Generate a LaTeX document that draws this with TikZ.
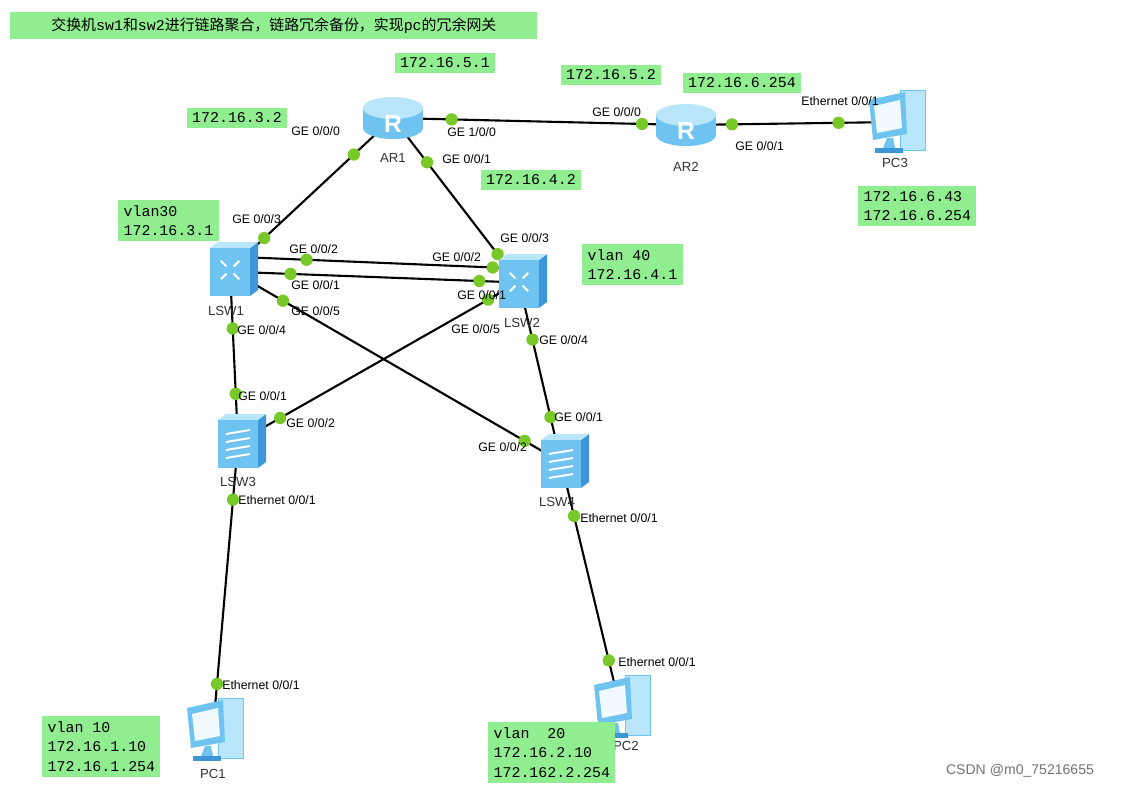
\documentclass[tikz,border=0pt]{standalone}
\usepackage{fontspec}
\setmainfont{Liberation Sans}
\newfontfamily\mono{Liberation Mono}
\newfontfamily\cjk{Noto Sans CJK SC}
\usetikzlibrary{positioning}
\definecolor{tagbg}{RGB}{144,238,144}
\definecolor{dotc}{RGB}{120,200,40}
\definecolor{devc}{RGB}{110,195,240}
\definecolor{devl}{RGB}{185,230,250}
\definecolor{devd}{RGB}{60,150,215}
\tikzset{
  link/.style={draw=black, line width=1.2pt},
  port/.style={circle, fill=dotc, inner sep=0pt, minimum size=7pt},
  plabel/.style={font=\fontsize{7}{8}\selectfont, anchor=west, inner sep=0pt},
  dname/.style={font=\fontsize{7.5}{9}\selectfont, text=black!80},
  tag/.style={fill=tagbg, font=\mono\fontsize{8.5}{11}\selectfont, align=left, inner sep=3pt},
  dev/.style={minimum width=40pt, minimum height=30pt, inner sep=0pt},
  pics/router/.style={code={
    \fill[devc] (-30,-10) rectangle (30,10);
    \fill[devc] (0,10) ellipse [x radius=30, y radius=11];
    \fill[devl] (0,-10) ellipse [x radius=30, y radius=11];
    \node[text=white, font=\bfseries\fontsize{14}{14}\selectfont] at (0,6) {R};
  }},
  pics/lswitch/.style={code={
    \fill[devd] (20,-22) -- (28,-28) -- (28,20) -- (20,26) -- cycle;
    \fill[devl] (-20,-22) -- (-12,-28) -- (28,-28) -- (20,-22) -- cycle;
    \fill[devc] (-20,-22) rectangle (20,26);
    \foreach \a in {45,135,225,315}
      \draw[white, line width=1.2pt] (\a:5) -- (\a:13);
  }},
  pics/aswitch/.style={code={
    \fill[devd] (20,-22) -- (28,-28) -- (28,20) -- (20,26) -- cycle;
    \fill[devl] (-20,-22) -- (-12,-28) -- (28,-28) -- (20,-22) -- cycle;
    \fill[devc] (-20,-22) rectangle (20,26);
    \foreach \y in {-8,0,8,16}
      \draw[white, line width=1.1pt] (-12,\y) -- (12,\y-4);
  }},
  pics/pc/.style={code={
    \fill[devl] (5,-32) rectangle (30,28);
    \draw[devc] (5,-32) rectangle (30,28);
    \fill[devc] (-26,-22) -- (10,-30) -- (12,12) -- (-22,18) -- cycle;
    \fill[white!80!devl] (-21,-16) -- (5,-22) -- (7,6) -- (-18,11) -- cycle;
    \fill[devc] (-8,16) -- (-2,16) -- (0,26) -- (-12,26) -- cycle;
    \fill[devd] (-20,26) rectangle (8,31);
  }}
}

\begin{document}
\begin{tikzpicture}[x=0.02cm, y=-0.02cm]
\useasboundingbox[fill=white] (0,0) rectangle (1125,789);
% devices (anchors)
\node[dev] (ar1) at (393,118) {};
\node[dev] (ar2) at (686,125) {};
\node[dev] (pc3) at (895,122) {};
\node[dev] (lsw1) at (230,270) {};
\node[dev] (lsw2) at (519,282) {};
\node[dev] (lsw3) at (238,442) {};
\node[dev] (lsw4) at (561,462) {};
\node[dev] (pc1) at (213,730) {};
\node[dev] (pc2) at (620,707) {};
\coordinate (u1) at (240,257);
\coordinate (u2) at (506,268);
\coordinate (l1) at (240,272);
\coordinate (l2) at (506,282);
% links
\draw[link] (ar1.center) -- (lsw1.center) node[port,pos=0.24]{} node[port,pos=0.79]{};
\draw[link] (ar1.center) -- (ar2.center) node[port,pos=0.20]{} node[port,pos=0.85]{};
\draw[link] (ar1.center) -- (lsw2.center) node[port,pos=0.27]{} node[port,pos=0.83]{};
\draw[link] (ar2.center) -- (pc3.center) node[port,pos=0.22]{} node[port,pos=0.73]{};
\draw[link] (u1) -- (u2) node[port,pos=0.25]{} node[port,pos=0.95]{};
\draw[link] (l1) -- (l2) node[port,pos=0.19]{} node[port,pos=0.90]{};
\draw[link] (lsw1.center) -- (lsw4.center) node[port,pos=0.16]{} node[port,pos=0.89]{};
\draw[link] (lsw2.center) -- (lsw3.center) node[port,pos=0.11]{} node[port,pos=0.85]{};
\draw[link] (lsw1.center) -- (lsw3.center) node[port,pos=0.34]{} node[port,pos=0.72]{};
\draw[link] (lsw2.center) -- (lsw4.center) node[port,pos=0.32]{} node[port,pos=0.75]{};
\draw[link] (lsw3.center) -- (pc1.center) node[port,pos=0.20]{} node[port,pos=0.84]{};
\draw[link] (lsw4.center) -- (pc2.center) node[port,pos=0.22]{} node[port,pos=0.81]{};
% icons
\pic at (ar1) {router};
\pic at (ar2) {router};
\pic at (lsw1) {lswitch};
\pic at (lsw2) {lswitch};
\pic at (lsw3) {aswitch};
\pic at (lsw4) {aswitch};
\pic at (pc1) {pc};
\pic at (pc2) {pc};
\pic at (pc3) {pc};
% names
\node[dname] (n1) at (393,158) {AR1};
\node[dname] (n2) at (686,167) {AR2};
\node[dname] (n3) at (895,163) {PC3};
\node[dname] (n4) at (226,311) {LSW1};
\node[dname] (n5) at (522,323) {LSW2};
\node[dname] (n6) at (238,482) {LSW3};
\node[dname] (n7) at (557,502) {LSW4};
\node[dname] (n8) at (213,774) {PC1};
\node[dname] (n9) at (626,746) {PC2};
% port labels
\node[plabel] (p1) at (291,131) {GE 0/0/0};
\node[plabel] (p2) at (447,132) {GE 1/0/0};
\node[plabel] (p3) at (442,159) {GE 0/0/1};
\node[plabel] (p4) at (592,112) {GE 0/0/0};
\node[plabel] (p5) at (735,146) {GE 0/0/1};
\node[plabel] (p6) at (801,101) {Ethernet 0/0/1};
\node[plabel] (p7) at (232,219) {GE 0/0/3};
\node[plabel] (p8) at (289,249) {GE 0/0/2};
\node[plabel] (p9) at (291,285) {GE 0/0/1};
\node[plabel] (p10) at (291,311) {GE 0/0/5};
\node[plabel] (p11) at (237,330) {GE 0/0/4};
\node[plabel] (p12) at (500,238) {GE 0/0/3};
\node[plabel] (p13) at (432,257) {GE 0/0/2};
\node[plabel] (p14) at (457,295) {GE 0/0/1};
\node[plabel] (p15) at (451,329) {GE 0/0/5};
\node[plabel] (p16) at (539,340) {GE 0/0/4};
\node[plabel] (p17) at (238,396) {GE 0/0/1};
\node[plabel] (p18) at (286,423) {GE 0/0/2};
\node[plabel] (p19) at (238,500) {Ethernet 0/0/1};
\node[plabel] (p20) at (554,417) {GE 0/0/1};
\node[plabel] (p21) at (478,447) {GE 0/0/2};
\node[plabel] (p22) at (580,518) {Ethernet 0/0/1};
\node[plabel] (p23) at (222,685) {Ethernet 0/0/1};
\node[plabel] (p24) at (618,662) {Ethernet 0/0/1};
% address tags
\node[tag, anchor=north west, minimum width=527*0.02cm, minimum height=24*0.02cm, font=\fontsize{8.5}{11}\selectfont] (title) at (10,12)
  {{\cjk 交换机}{\mono sw1}{\cjk 和}{\mono sw2}{\cjk 进行链路聚合，链路冗余备份，实现}{\mono pc}{\cjk 的冗余网关}};
\node[tag] (t1) at (445,63) {172.16.5.1};
\node[tag] (t2) at (237,118) {172.16.3.2};
\node[tag] (t3) at (611,75) {172.16.5.2};
\node[tag] (t4) at (742,83) {172.16.6.254};
\node[tag] (t5) at (531,180) {172.16.4.2};
\node[tag, anchor=north west] (t6) at (118,200) {vlan30\\172.16.3.1};
\node[tag, anchor=north west] (t7) at (582,244) {vlan 40\\172.16.4.1};
\node[tag, anchor=north west] (t8) at (858,186) {172.16.6.43\\172.16.6.254};
\node[tag, anchor=north west] (t9) at (42,716) {vlan 10\\172.16.1.10\\172.16.1.254};
\node[tag, anchor=north west] (t10) at (488,722) {vlan\ \ 20\\172.16.2.10\\172.162.2.254};
\node[text=black!55, font=\fontsize{8}{9}\selectfont] (wm) at (1020,771) {CSDN @m0\_75216655};
\end{tikzpicture}
\end{document}
